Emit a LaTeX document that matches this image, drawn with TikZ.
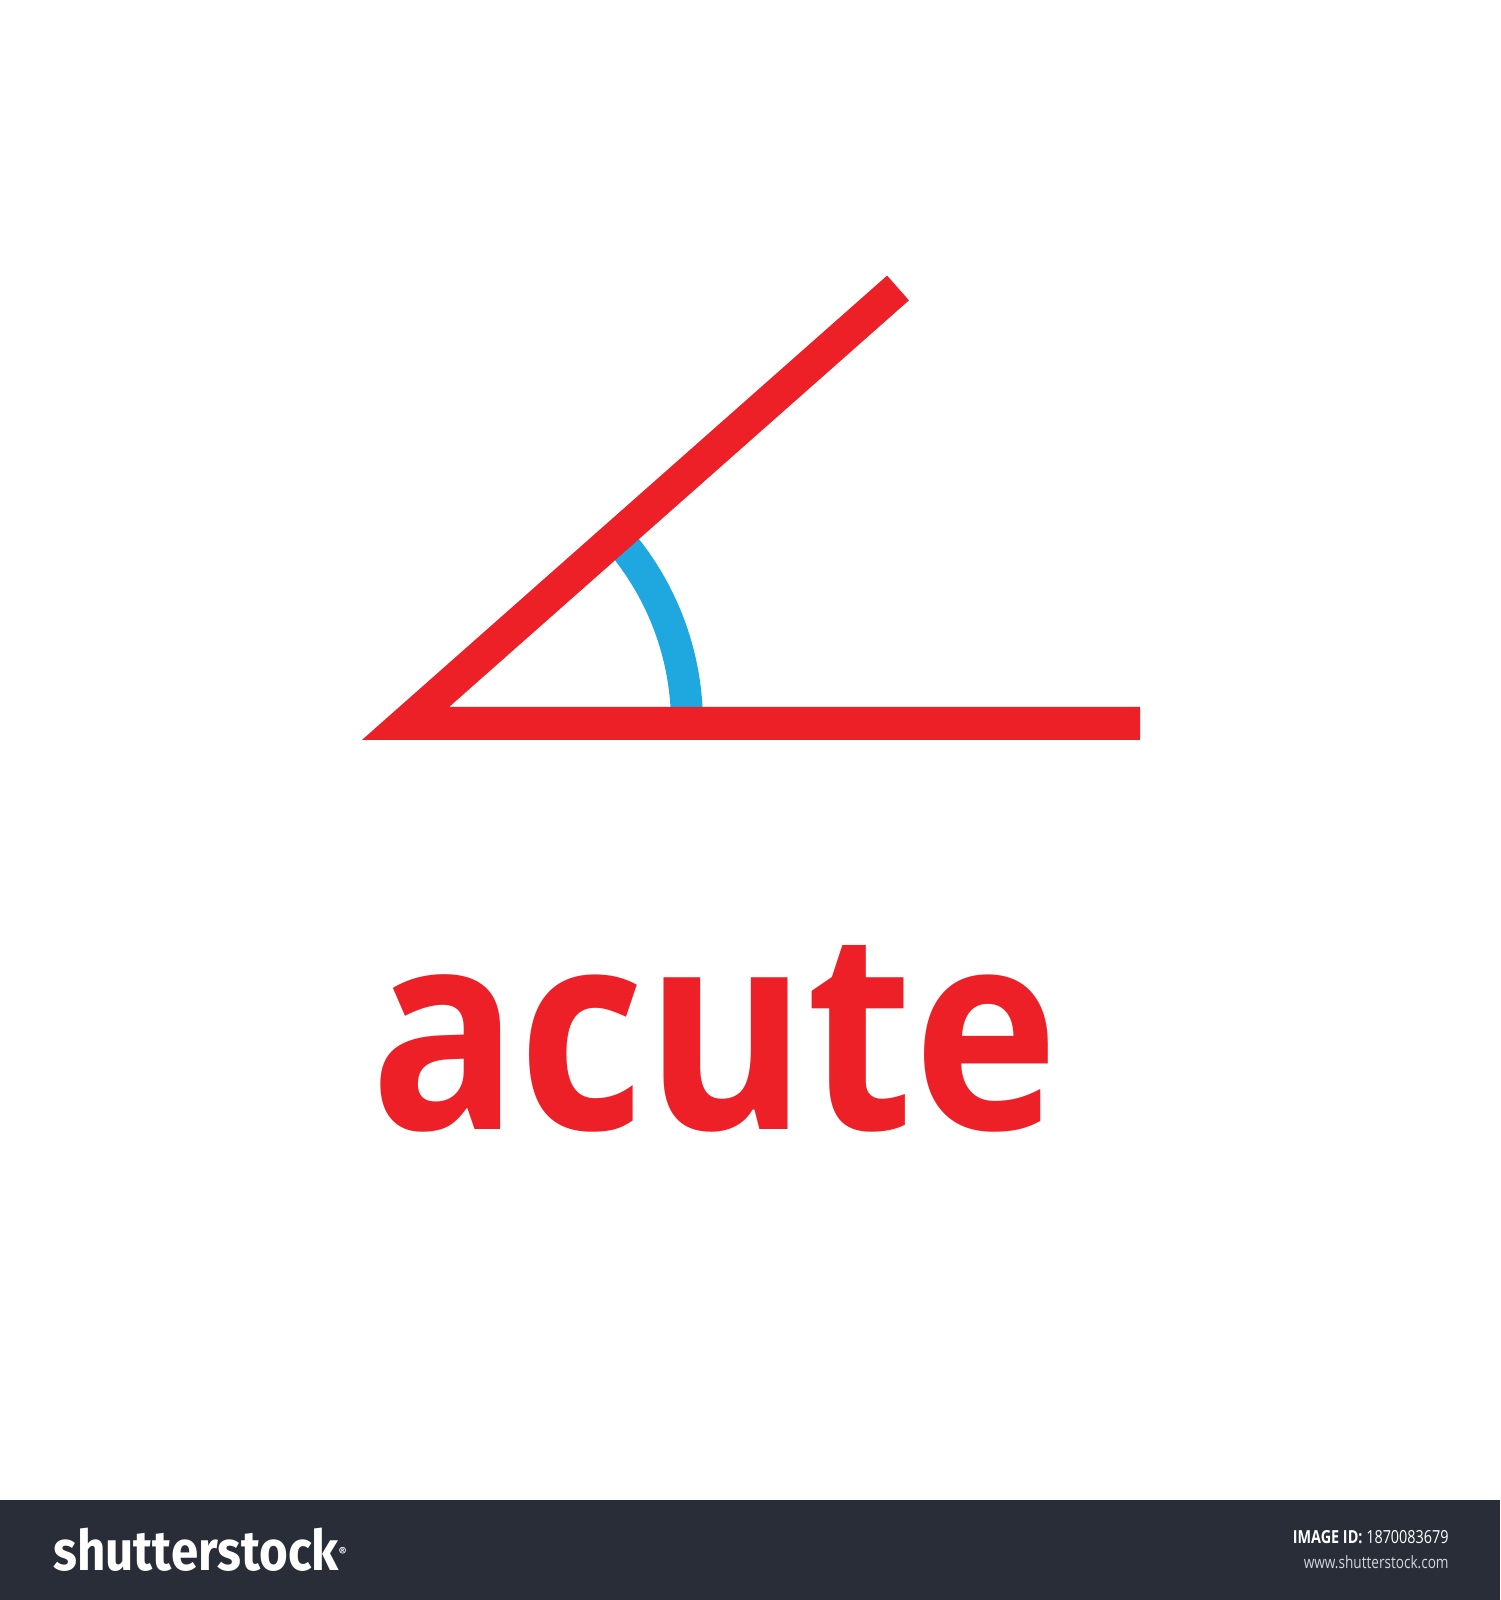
\documentclass[tikz,border=0pt]{standalone}
\usepackage{xcolor}
\usepackage{fontspec}
\usepackage{tikz}
\newfontfamily\wordfont{Open Sans}
\newfontfamily\logofont{Fira Sans}
\newfontfamily\idfont{Open Sans}
\definecolor{angred}{HTML}{ED1F27}
\definecolor{arcblue}{HTML}{1FA8E0}
\definecolor{bannerdark}{HTML}{282D38}
\tikzset{ray/.style={draw=angred, line width=16.5pt, line join=miter, line cap=butt}}
\tikzset{arcmark/.style={draw=arcblue, line width=16pt}}
\tikzset{word/.style={inner sep=0pt, anchor=base, text=angred,
    font=\wordfont\bfseries\fontsize{139}{150}\selectfont}}

\begin{document}
\begin{tikzpicture}[x=.5pt,y=.5pt]
    \useasboundingbox (0,0) rectangle (1500,1600);
    \fill[white] (0,0) rectangle (1500,1600);
    \coordinate (vertex) at (405.5,876.5);
    \coordinate (baseend) at (1140,876.5);
    \coordinate (rayend) at (898,1312);
    \draw[arcmark] ([shift={(-2.5:281.5)}]vertex) arc[start angle=-2.5, end angle=44, radius=281.5];
    \draw[ray] (baseend) -- (vertex) -- (rayend);
    \node[word] (name) at (714.5,470) {\scalebox{0.885}[1]{acute}};
    \fill[bannerdark] (0,0) rectangle (1500,100);
    \node[inner sep=0pt, anchor=base west, text=white,
      font=\logofont\bfseries\fontsize{28}{30}\selectfont] (logo) at (53,29)
      {\scalebox{0.88}[1]{shutterstock}\raisebox{7pt}{\fontsize{6}{6}\selectfont\textregistered}};
    \node[inner sep=0pt, anchor=base east, text=white,
      font=\idfont\fontsize{9}{10}\selectfont] (imageid) at (1449,56)
      {\scalebox{0.8}[1]{\textbf{IMAGE ID:} 1870083679}};
    \node[inner sep=0pt, anchor=base east, text=white!80!bannerdark,
      font=\idfont\fontsize{8.5}{10}\selectfont] (site) at (1449,32)
      {\scalebox{0.8}[1]{www.shutterstock.com}};
  \end{tikzpicture}
\end{document}
